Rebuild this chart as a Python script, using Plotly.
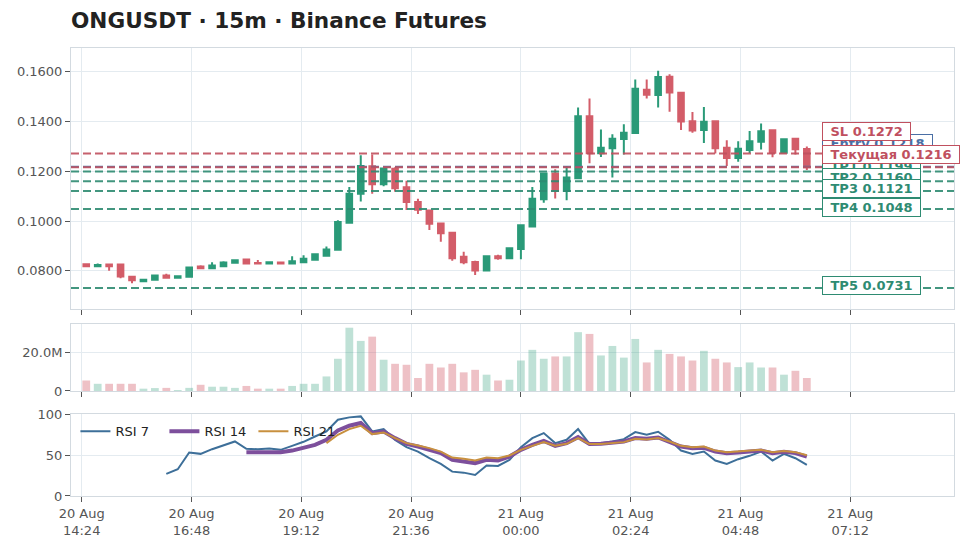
import pandas as pd
import plotly.graph_objects as go
from plotly.subplots import make_subplots

# 15m candles, 20 Aug 14:30 -> 21 Aug 06:15
times = pd.date_range("2025-08-20 14:30", periods=64, freq="15min")

opens = [0.0826, 0.0818, 0.0825, 0.0825, 0.0776, 0.0758, 0.0764, 0.0781, 0.0772, 0.0776,
         0.0817, 0.0810, 0.0818, 0.0832, 0.0845, 0.0831, 0.0829, 0.0833, 0.0829, 0.0834,
         0.0844, 0.0860, 0.0884, 0.0993, 0.1110, 0.1220, 0.1148, 0.1210, 0.1136, 0.1076,
         0.1042, 0.0990, 0.0953, 0.0856, 0.0835, 0.0801, 0.0858, 0.0850, 0.0887, 0.0978,
         0.1088, 0.1191, 0.1121, 0.1172, 0.1421, 0.1273, 0.1293, 0.1330, 0.1354, 0.1528,
         0.1507, 0.1580, 0.1516, 0.1401, 0.1366, 0.1401, 0.1295, 0.1253, 0.1286, 0.1319,
         0.1365, 0.1275, 0.1331, 0.1290]
highs = [0.0830, 0.0829, 0.0826, 0.0829, 0.0778, 0.0768, 0.0784, 0.0788, 0.0781, 0.0815,
         0.0822, 0.0834, 0.0838, 0.0844, 0.0848, 0.0843, 0.0836, 0.0835, 0.0858, 0.0862,
         0.0870, 0.0897, 0.1003, 0.1137, 0.1265, 0.1268, 0.1215, 0.1216, 0.1162, 0.1090,
         0.1044, 0.0992, 0.0955, 0.0876, 0.0840, 0.0862, 0.0864, 0.0891, 0.0986, 0.1137,
         0.1194, 0.1208, 0.1221, 0.1457, 0.1493, 0.1368, 0.1349, 0.1389, 0.1569, 0.1569,
         0.1604, 0.1590, 0.1518, 0.1439, 0.1459, 0.1404, 0.1325, 0.1321, 0.1362, 0.1392,
         0.1367, 0.1331, 0.1333, 0.1300]
lows = [0.0815, 0.0814, 0.0800, 0.0770, 0.0750, 0.0754, 0.0762, 0.0769, 0.0770, 0.0774,
        0.0806, 0.0807, 0.0815, 0.0830, 0.0827, 0.0828, 0.0826, 0.0826, 0.0828, 0.0832,
        0.0842, 0.0858, 0.0882, 0.0990, 0.1078, 0.1110, 0.1140, 0.1118, 0.1044, 0.1028,
        0.0964, 0.0917, 0.0840, 0.0826, 0.0783, 0.0797, 0.0844, 0.0849, 0.0846, 0.0975,
        0.1073, 0.1091, 0.1084, 0.1168, 0.1232, 0.1258, 0.1175, 0.1268, 0.1350, 0.1493,
        0.1457, 0.1440, 0.1366, 0.1355, 0.1314, 0.1272, 0.1221, 0.1238, 0.1274, 0.1288,
        0.1256, 0.1273, 0.1268, 0.1205]
closes = [0.0818, 0.0823, 0.0818, 0.0777, 0.0762, 0.0764, 0.0781, 0.0772, 0.0778, 0.0813,
          0.0810, 0.0821, 0.0833, 0.0842, 0.0829, 0.0829, 0.0834, 0.0829, 0.0838, 0.0848,
          0.0866, 0.0885, 0.0996, 0.1110, 0.1221, 0.1148, 0.1211, 0.1132, 0.1076, 0.1045,
          0.0989, 0.0951, 0.0850, 0.0834, 0.0801, 0.0858, 0.0850, 0.0890, 0.0983, 0.1090,
          0.1191, 0.1121, 0.1175, 0.1421, 0.1273, 0.1295, 0.1331, 0.1355, 0.1532, 0.1508,
          0.1579, 0.1517, 0.1400, 0.1364, 0.1399, 0.1293, 0.1253, 0.1291, 0.1321, 0.1361,
          0.1275, 0.1329, 0.1289, 0.1216]

# volume in millions
volumes_m = [5.4, 3.7, 3.7, 3.7, 3.7, 1.2, 1.5, 1.6, 0.5, 1.6,
             3.2, 2.2, 2.2, 1.6, 2.6, 1.2, 1.2, 1.2, 2.6, 3.7,
             3.7, 7.5, 16.6, 32.6, 25.8, 28.0, 16.1, 14.0, 13.5, 6.7,
             14.0, 12.1, 14.0, 9.6, 10.9, 8.4, 5.4, 5.8, 15.7, 21.2,
             16.6, 17.8, 17.8, 30.3, 29.4, 18.3, 23.2, 17.2, 26.8, 14.7,
             21.2, 19.1, 17.8, 15.7, 20.7, 16.6, 14.7, 12.3, 14.7, 12.1,
             12.1, 8.4, 10.4, 6.7]

rsi7 = [None] * 7 + [
    26.9, 32.6, 53.0, 51.4, 57.1, 61.6, 66.5, 57.5, 57.1, 57.9,
    56.3, 61.2, 66.1, 72.6, 78.7, 93.0, 95.9, 97.1, 78.7, 81.6,
    68.5, 59.6, 54.2, 46.1, 39.2, 29.7, 28.5, 25.7, 37.1, 36.7,
    44.1, 59.6, 70.6, 76.7, 64.5, 68.5, 81.6, 63.6, 64.5, 66.5,
    69.4, 78.0, 74.7, 78.3, 68.5, 55.4, 51.4, 54.2, 43.2, 39.2,
    44.9, 49.0, 54.2, 43.2, 51.4, 46.1, 37.9]
rsi14 = [None] * 14 + [
    53.5, 53.5, 53.1, 53.5, 55.4, 58.4, 62.4, 68.5, 79.9, 85.7,
    89.0, 76.7, 78.7, 70.6, 63.6, 60.4, 56.3, 52.3, 44.1, 42.0,
    40.0, 44.1, 43.2, 48.1, 56.3, 62.4, 67.3, 61.2, 64.5, 71.8,
    63.3, 63.6, 64.5, 66.5, 70.6, 69.8, 71.4, 66.5, 60.4, 58.4,
    58.8, 54.2, 52.3, 53.1, 54.2, 55.4, 52.3, 53.9, 52.3, 48.1]
rsi21 = [None] * 21 + [
    64.5, 74.7, 81.6, 85.7, 75.5, 77.5, 70.6, 64.5, 61.6, 58.4,
    54.2, 46.9, 45.3, 43.2, 46.9, 46.1, 49.4, 56.3, 61.2, 65.7,
    61.2, 63.6, 70.6, 63.3, 63.3, 64.5, 65.7, 69.8, 68.9, 70.6,
    66.5, 61.2, 59.6, 60.4, 55.4, 53.5, 54.2, 55.4, 56.3, 53.5,
    55.0, 53.5, 49.8]
rsi_levels = [70, 50, 30]

level_names = ["SL", "Entry", "Текущая", "TP1", "TP2", "TP3", "TP4", "TP5"]
level_prices = [0.1272, 0.1218, 0.1216, 0.1199, 0.1160, 0.1121, 0.1048, 0.0731]

GREEN = "#2a9a78"
RED = "#d35d69"
BLUE = "#4a6fa5"
TP_GREEN = "#2e8b72"
SL_RED = "#c0505f"
GRID = "#e4ebf0"
BORDER = "#d3dae0"
FONT = "DejaVu Sans"


def level_color(name):
    if name.startswith("TP"):
        return TP_GREEN
    if name == "Entry":
        return BLUE
    return SL_RED


fig = make_subplots(rows=3, cols=1, shared_xaxes=True, vertical_spacing=0.03)

fig.add_trace(go.Candlestick(
    x=times, open=opens, high=highs, low=lows, close=closes,
    increasing=dict(line=dict(color=GREEN, width=2), fillcolor=GREEN),
    decreasing=dict(line=dict(color=RED, width=2), fillcolor=RED),
    showlegend=False), row=1, col=1)

vol_colors = ["rgba(42,154,120,0.3)" if c >= o else "rgba(211,93,105,0.38)"
              for o, c in zip(opens, closes)]
fig.add_trace(go.Bar(x=times, y=[v * 1e6 for v in volumes_m],
                     marker=dict(color=vol_colors, line=dict(width=0)),
                     showlegend=False), row=2, col=1)

for lvl in rsi_levels:
    col = {70: "#c98080", 50: "#a9b1b8", 30: "#6a9fa0"}[lvl]
    fig.add_hline(y=lvl, line=dict(color=col, width=2), row=3, col=1)

fig.add_trace(go.Scatter(x=times, y=rsi7, mode="lines", name="RSI 7",
                         line=dict(color="#3d6f99", width=2)), row=3, col=1)
fig.add_trace(go.Scatter(x=times, y=rsi14, mode="lines", name="RSI 14",
                         line=dict(color="#7d4f9c", width=4)), row=3, col=1)
fig.add_trace(go.Scatter(x=times, y=rsi21, mode="lines", name="RSI 21",
                         line=dict(color="#c8903f", width=2)), row=3, col=1)

# horizontal trade levels (current on top)
draw_order = ["TP5", "TP4", "TP3", "TP2", "TP1", "SL", "Entry", "Текущая"]
for name in draw_order:
    price = level_prices[level_names.index(name)]
    fig.add_hline(y=price, row=1, col=1, opacity=0.9,
                  line=dict(color=level_color(name), width=2, dash="8px,4px"))

# push labels apart so they stack
gap = 0.0046
label_y = {}
prev = None
for name, price in sorted(zip(level_names, level_prices), key=lambda t: t[1]):
    y = price if prev is None else max(price, prev + gap)
    label_y[name] = y
    prev = y

label_x = times[-1] + pd.Timedelta(minutes=20)
for name in ["Entry", "TP1", "TP2", "TP3", "TP4", "TP5", "SL", "Текущая"]:
    price = level_prices[level_names.index(name)]
    col = level_color(name)
    fig.add_annotation(x=label_x, y=label_y[name], xref="x", yref="y",
                       text=f"\u2002<b>{name} {price:.4f}</b>\u2002", showarrow=False,
                       xanchor="left", yanchor="middle", yshift=2,
                       font=dict(family=FONT, size=13, color=col),
                       bgcolor="white", bordercolor=col, borderwidth=1, borderpad=1)

axis_common = dict(showgrid=True, gridcolor=GRID, showline=True, linecolor=BORDER,
                   mirror=True, ticks="outside", ticklen=5, tickcolor="#555",
                   tickfont=dict(family=FONT, size=13, color="#555"), zeroline=False,
                   automargin=False)

fig.update_xaxes(**axis_common, type="date",
                 range=["2025-08-20 14:10", "2025-08-21 09:28"],
                 tick0="2025-08-20 14:24", dtick=144 * 60 * 1000,
                 tickformat="%d %b<br>%H:%M", rangeslider_visible=False)
fig.update_yaxes(**axis_common)

# page adds an 8px body margin, so the figure is sized to fit inside it
fig.update_layout(
    yaxis=dict(domain=[0.4174, 1.0], range=[0.0646, 0.1696], dtick=0.02, tickformat=".4f"),
    yaxis2=dict(domain=[0.2344, 0.3839], range=[0, 34.5e6],
                tickvals=[0, 20e6], ticktext=["0", "20.0M"]),
    yaxis3=dict(domain=[0.0, 0.183], range=[0, 100], tickvals=[0, 50, 100]),
    bargap=0.32,
    width=963, height=540,
    margin=dict(l=63, r=17, t=40, b=52),
    paper_bgcolor="white", plot_bgcolor="white",
    font=dict(family=FONT, size=12, color="#333"),
    title=dict(text="<b>ONGUSDT · 15m · Binance Futures</b>", x=63 / 963, xanchor="left",
               y=1 - 12 / 540, yanchor="middle", font=dict(family=FONT, size=21.6, color="#222")),
    legend=dict(orientation="h", x=0.005, y=0.178, xanchor="left", yanchor="top",
                entrywidth=44, bgcolor="rgba(0,0,0,0)",
                font=dict(family=FONT, size=13, color="#222")),
)

fig.write_html("out.html")
